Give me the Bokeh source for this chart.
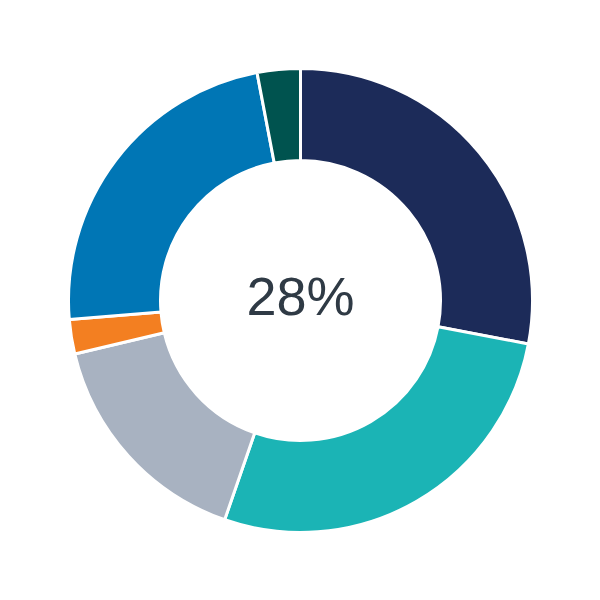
import numpy as np
from bokeh.core.properties import value
from bokeh.embed import file_html
from bokeh.models import ColumnDataSource, Range1d
from bokeh.plotting import figure
from bokeh.resources import INLINE

# Slice shares (percent), clockwise from 12 o'clock
labels = ["A", "B", "C", "D", "E", "F"]
shares = [28, 27.3, 16, 2.4, 23.3, 3]
colors = ["#1c2b59", "#1bb4b5", "#a8b2c1", "#f37f21", "#0076b5", "#00534f"]
center_label = "28%"

fracs = np.array(shares) / sum(shares)
ends = np.cumsum(fracs) * 2 * np.pi
starts = ends - fracs * 2 * np.pi

src = ColumnDataSource(dict(
    label=labels,
    start=np.pi / 2 - starts,
    end=np.pi / 2 - ends,
    color=colors,
))

# ranges chosen so the donut centre sits at the middle of the window
p = figure(width=584, height=584, output_backend="svg", toolbar_location=None,
           x_range=Range1d(-300, 284), y_range=Range1d(-284, 300), min_border=0)

p.annular_wedge(x=0, y=0, inner_radius=140, outer_radius=232,
                start_angle="start", end_angle="end", direction="clock",
                fill_color="color", line_color="white", line_width=3, source=src)

p.text(x=[0], y=[0], y_offset=-5, text=[center_label],
       text_font=value("Liberation Sans"),
       text_font_size="54px", text_color="#2f3a45",
       text_align="center", text_baseline="middle")

p.axis.visible = False
p.grid.visible = False
p.outline_line_color = None

open("out.html", "w").write(file_html(p, INLINE))
